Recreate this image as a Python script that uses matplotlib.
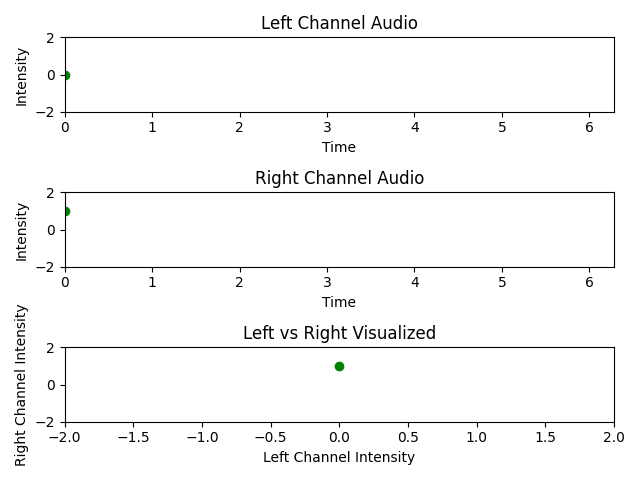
import numpy as np
import matplotlib
matplotlib.use("Agg")
import matplotlib.pyplot as plt

time_vals = [0.0]
left_vals = [0.0]
right_vals = [1.0]
x_max = 2 * np.pi

fig, axes = plt.subplots(3, 1, figsize=(6.4, 4.8), dpi=100)

ax1, ax2, ax3 = axes
ax1.plot(time_vals, left_vals, 'go')
ax1.set_xlim(0, x_max)
ax1.set_ylim(-2, 2)
ax1.set_title("Left Channel Audio")
ax1.set_xlabel("Time")
ax1.set_ylabel("Intensity")

ax2.plot(time_vals, right_vals, 'go')
ax2.set_xlim(0, x_max)
ax2.set_ylim(-2, 2)
ax2.set_title("Right Channel Audio")
ax2.set_xlabel("Time")
ax2.set_ylabel("Intensity")

ax3.plot(left_vals, right_vals, 'go')
ax3.set_xlim(-2, 2)
ax3.set_ylim(-2, 2)
ax3.set_title("Left vs Right Visualized")
ax3.set_xlabel("Left Channel Intensity")
ax3.set_ylabel("Right Channel Intensity")

fig.tight_layout()
fig.savefig("out.png", dpi=100)
